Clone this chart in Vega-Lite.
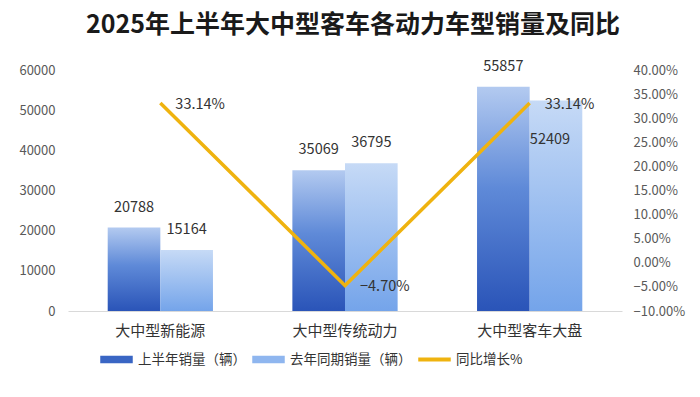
{
  "$schema": "https://vega.github.io/schema/vega-lite/v6.json",
  "width": 554,
  "height": 241,
  "autosize": "none",
  "padding": {"left": 68, "top": 70, "right": 78, "bottom": 86},
  "background": "#ffffff",
  "title": {
    "text": "2025年上半年大中型客车各动力车型销量及同比",
    "font": "Noto Sans CJK SC",
    "fontSize": 25,
    "fontWeight": "bold",
    "color": "#1a1a1a",
    "anchor": "middle",
    "offset": 21,
    "dx": 8
  },
  "config": {
    "view": {"stroke": null},
    "font": "Noto Sans CJK SC",
    "axis": {"grid": false, "ticks": false, "labelFont": "Noto Sans CJK SC"}
  },
  "datasets": {
    "bars": [
      {"cat": "大中型新能源", "series": "上半年销量（辆）", "value": 20788},
      {"cat": "大中型新能源", "series": "去年同期销量（辆）", "value": 15164},
      {"cat": "大中型传统动力", "series": "上半年销量（辆）", "value": 35069},
      {"cat": "大中型传统动力", "series": "去年同期销量（辆）", "value": 36795},
      {"cat": "大中型客车大盘", "series": "上半年销量（辆）", "value": 55857},
      {"cat": "大中型客车大盘", "series": "去年同期销量（辆）", "value": 52409}
    ],
    "line": [
      {"cat": "大中型新能源", "yoy": 0.3314, "series": "同比增长%"},
      {"cat": "大中型传统动力", "yoy": -0.047, "series": "同比增长%"},
      {"cat": "大中型客车大盘", "yoy": 0.3314, "series": "同比增长%"}
    ]
  },
  "encoding": {
    "x": {
      "field": "cat",
      "type": "nominal",
      "sort": ["大中型新能源", "大中型传统动力", "大中型客车大盘"],
      "scale": {"paddingInner": 0.43, "paddingOuter": 0.215},
      "axis": {
        "title": null,
        "labelAngle": 0,
        "labelFontSize": 15,
        "labelColor": "#333333",
        "labelPadding": 12,
        "domainColor": "#d9d9d9",
        "domainWidth": 1
      }
    }
  },
  "layer": [
    {
      "data": {"name": "bars"},
      "encoding": {
        "y": {
          "field": "value",
          "type": "quantitative",
          "scale": {"domain": [0, 60000], "nice": false},
          "axis": {
            "title": null,
            "values": [0, 10000, 20000, 30000, 40000, 50000, 60000],
            "format": "d",
            "domain": false,
            "labelFontSize": 13,
            "labelColor": "#595959",
            "labelPadding": 13
          }
        },
        "xOffset": {"field": "series", "type": "nominal", "scale": {"domain": ["上半年销量（辆）", "去年同期销量（辆）"]}}
      },
      "layer": [
        {
          "transform": [{"filter": "datum.series == '上半年销量（辆）'"}],
          "mark": {
            "type": "bar",
            "color": {"gradient": "linear", "x1": 0, "y1": 0, "x2": 0, "y2": 1, "stops": [{"offset": 0, "color": "#b3caf0"}, {"offset": 0.45, "color": "#5f8ad8"}, {"offset": 1, "color": "#2a54b8"}]}
          }
        },
        {
          "transform": [{"filter": "datum.series == '去年同期销量（辆）'"}],
          "mark": {
            "type": "bar",
            "color": {"gradient": "linear", "x1": 0, "y1": 0, "x2": 0, "y2": 1, "stops": [{"offset": 0, "color": "#c6daf6"}, {"offset": 1, "color": "#74a4ea"}]}
          }
        },
        {
          "transform": [{"filter": "!(datum.cat == '大中型客车大盘' && datum.series == '去年同期销量（辆）')"}],
          "mark": {"type": "text", "dy": -20, "fontSize": 14.5, "color": "#333333", "baseline": "middle"},
          "encoding": {
            "text": {"field": "value", "type": "quantitative", "format": "d"}
          }
        },
        {
          "transform": [{"filter": "datum.cat == '大中型客车大盘' && datum.series == '去年同期销量（辆）'"}],
          "mark": {"type": "text", "dy": 40, "dx": -6, "fontSize": 14.5, "color": "#333333", "baseline": "middle"},
          "encoding": {
            "text": {"field": "value", "type": "quantitative", "format": "d"}
          }
        }
      ]
    },
    {
      "data": {"name": "line"},
      "encoding": {
        "y": {
          "field": "yoy",
          "type": "quantitative",
          "scale": {"domain": [-0.1, 0.4], "nice": false, "zero": false},
          "axis": {
            "title": null,
            "orient": "right",
            "values": [-0.1, -0.05, 0, 0.05, 0.1, 0.15, 0.2, 0.25, 0.3, 0.35, 0.4],
            "format": ".2%",
            "domain": false,
            "labelFontSize": 13,
            "labelColor": "#595959",
            "labelPadding": 11
          }
        }
      },
      "layer": [
        {
          "mark": {"type": "line", "strokeWidth": 3.5, "strokeJoin": "miter"},
          "encoding": {
            "color": {
              "field": "series",
              "type": "nominal",
              "scale": {
                "domain": ["上半年销量（辆）", "去年同期销量（辆）", "同比增长%"],
                "range": ["#3a66c4", "#8fb6ef", "#EFB30F"]
              },
              "legend": {
                "title": null,
                "orient": "none",
                "legendX": 32,
                "legendY": 273,
                "direction": "horizontal",
                "labelFontSize": 13.5,
                "labelColor": "#333333",
                "labelFont": "Noto Sans CJK SC",
                "labelOffset": 5,
                "columnPadding": 4,
                "symbolSize": 961,
                "symbolType": "M-1,-0.2H1V0.2H-1Z",
                "encode": {
                  "symbols": {
                    "update": {
                      "shape": {"signal": "datum.value === '同比增长%' ? 'M-1,-0.08H1V0.08H-1Z' : 'M-1,-0.2H1V0.2H-1Z'"},
                      "fill": {"signal": "scale('color', datum.value)"},
                      "stroke": {"value": "transparent"},
                      "opacity": {"value": 1},
                      "fillOpacity": {"value": 1}
                    }
                  }
                }
              }
            }
          }
        },
        {
          "mark": {"type": "text", "align": "left", "dx": 15, "dy": 2, "fontSize": 14.5, "color": "#333333", "baseline": "middle"},
          "encoding": {
            "text": {"field": "yoy", "type": "quantitative", "format": ".2%"}
          }
        }
      ]
    }
  ],
  "resolve": {"scale": {"y": "independent"}}
}
